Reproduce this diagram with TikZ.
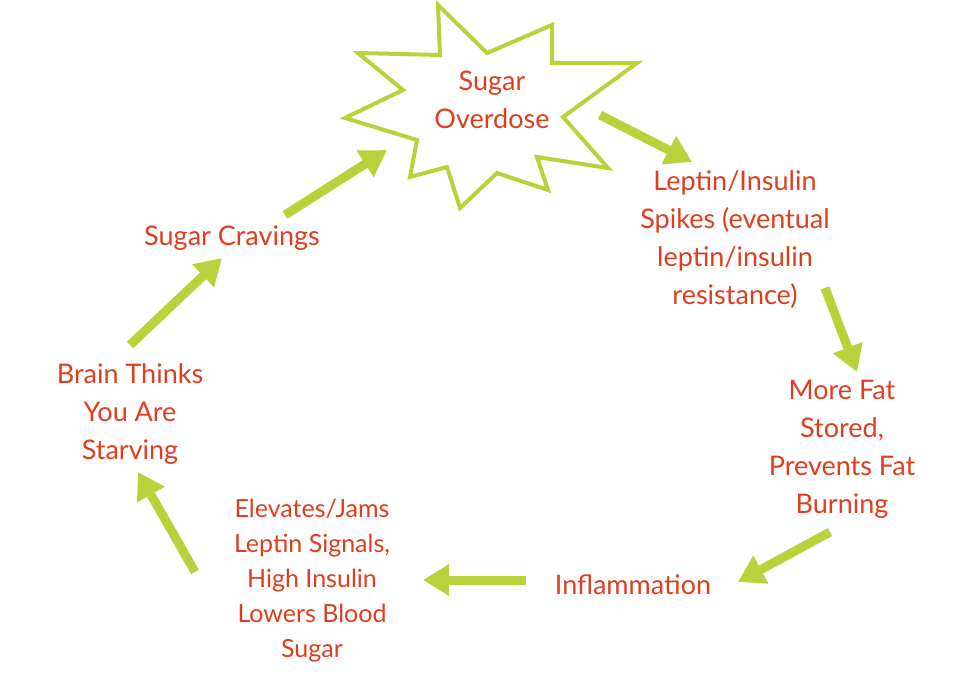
\documentclass[tikz,border=0pt]{standalone}
\usepackage{fontspec}
\setmainfont{Lato}
\usetikzlibrary{arrows.meta}
\definecolor{lime}{RGB}{184,210,60}
\definecolor{txt}{RGB}{222,62,30}
\tikzset{
  lbl/.style={text=txt,align=center,font=\fontsize{27}{38}\selectfont,inner sep=0pt},
  lbls/.style={text=txt,align=center,font=\fontsize{25}{35}\selectfont,inner sep=0pt},
  arr/.style={draw=lime,line width=9pt,-{Triangle[width=30pt,length=26pt]}}
}
\begin{document}
\begin{tikzpicture}[x=1pt,y=-1pt]
\useasboundingbox (0,0) rectangle (976,698);
\draw[lime,line width=4pt,line join=miter] (438,5)--(487,53)--(552,25)--(552,63)--(637,63)--(563,117)--(608,168)--(537,157)--(548,190)--(497,173)--(460,208)--(447,167)--(410,177)--(417,140)--(345,118)--(403,90)--(358,53)--(440,55)--cycle;
\node[lbl] (so) at (492,100) {Sugar\\Overdose};
\node[lbl] (lep) at (735,240) {Leptin/Insulin\\Spikes (eventual\\leptin/insulin\\resistance)};
\node[lbl] (fat) at (842,449) {More Fat\\Stored,\\Prevents Fat\\Burning};
\node[lbl] (inf) at (633,585) {Inflammation};
\node[lbls] (elev) at (312,581) {Elevates/Jams\\Leptin Signals,\\High Insulin\\Lowers Blood\\Sugar};
\node[lbl] (brain) at (130,414) {Brain Thinks\\You Are\\Starving};
\node[lbl] (crav) at (232,238) {Sugar Cravings};
\coordinate (a1s) at (600,115); \coordinate (a1e) at (692,162);
\coordinate (a2s) at (825,288); \coordinate (a2e) at (857,372);
\coordinate (a3s) at (830,532); \coordinate (a3e) at (738,582);
\coordinate (a4s) at (526,580); \coordinate (a4e) at (423,580);
\coordinate (a5s) at (195,572); \coordinate (a5e) at (138,472);
\coordinate (a6s) at (130,345); \coordinate (a6e) at (222,258);
\coordinate (a7s) at (285,215); \coordinate (a7e) at (387,150);
\draw[arr] (a1s)--(a1e);
\draw[arr] (a2s)--(a2e);
\draw[arr] (a3s)--(a3e);
\draw[arr] (a4s)--(a4e);
\draw[arr] (a5s)--(a5e);
\draw[arr] (a6s)--(a6e);
\draw[arr] (a7s)--(a7e);
\end{tikzpicture}
\end{document}
